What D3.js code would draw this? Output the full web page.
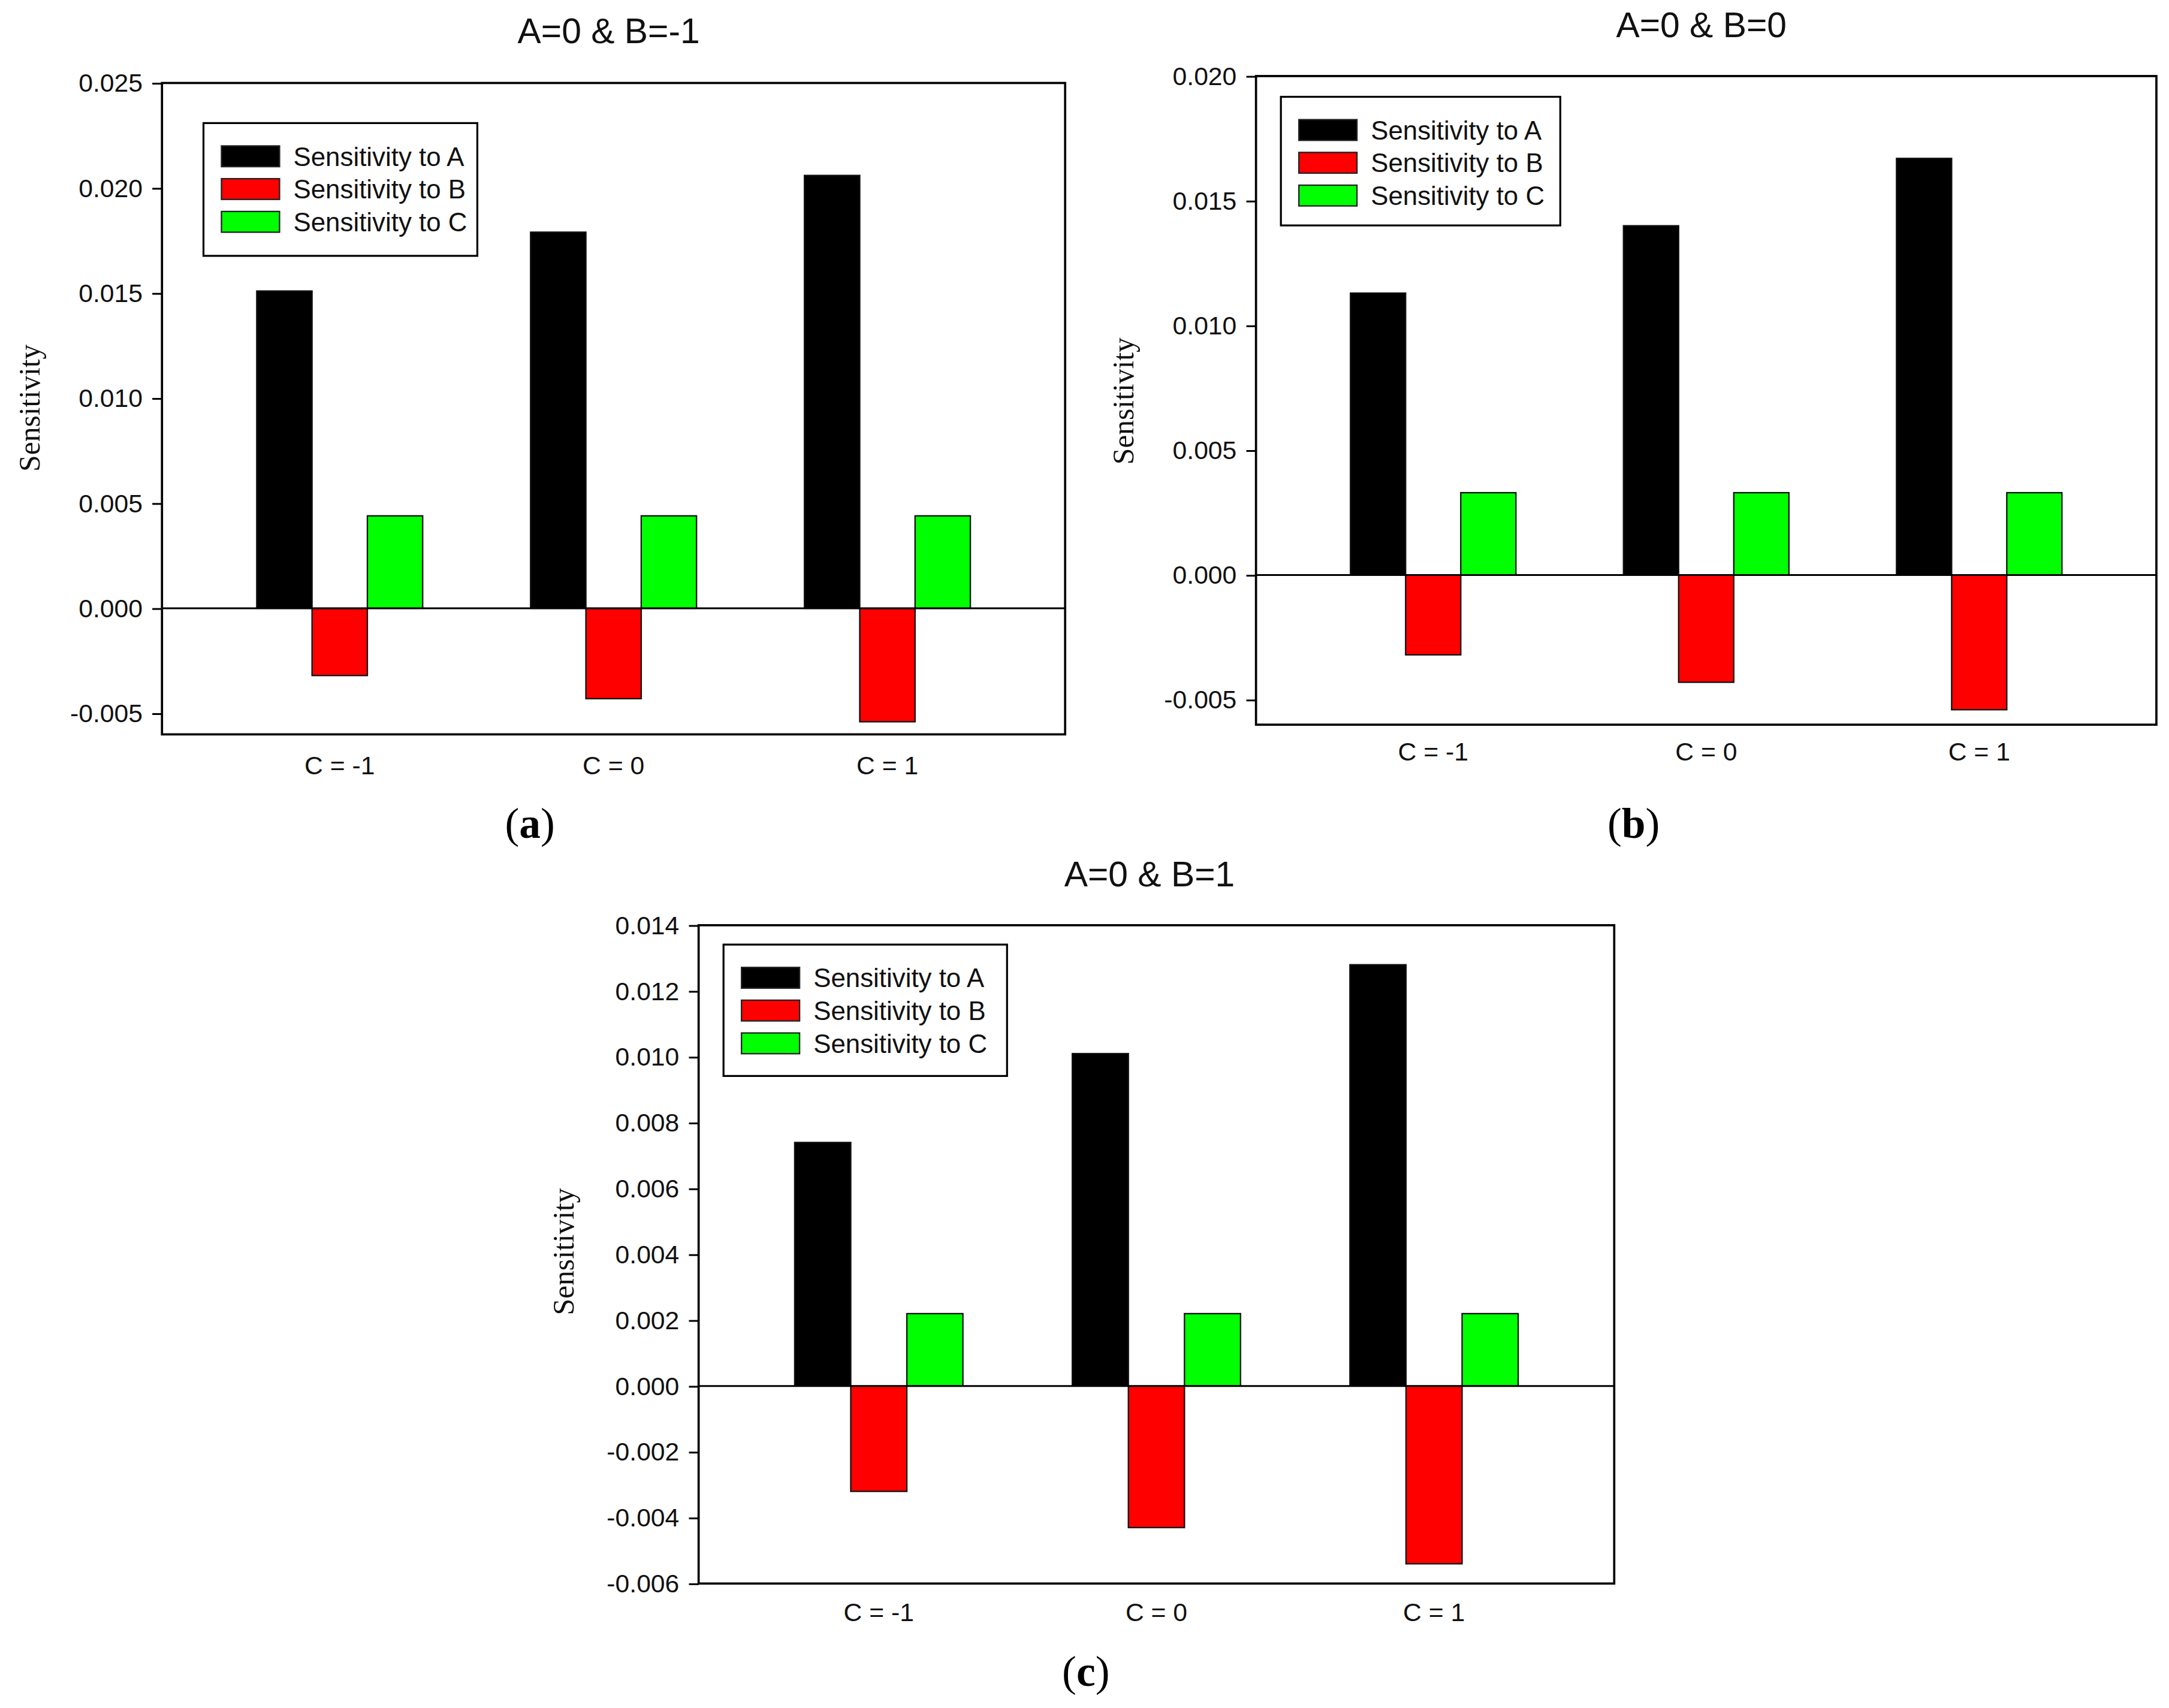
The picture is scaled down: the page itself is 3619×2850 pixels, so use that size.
<!DOCTYPE html>
<html>
<head>
<meta charset="utf-8">
<script src="https://cdn.jsdelivr.net/npm/d3@7"></script>
<style>
  html, body { margin: 0; padding: 0; background: #fff; }
  svg { display: block; }
</style>
</head>
<body>
<div id="chart"></div>
<script>
// Categorías, series y valores
const categories = ["C = -1", "C = 0", "C = 1"];
const seriesNames = ["Sensitivity to A", "Sensitivity to B", "Sensitivity to C"];
const seriesColors = ["#000000", "#ff0000", "#00ff00"];
const titles = ["A=0 & B=-1", "A=0 & B=0", "A=0 & B=1"];
const letters = ["(a)", "(b)", "(c)"];

// Panel (a): A=0 & B=-1
const sensA_a = [0.0151, 0.0179, 0.0206];
const sensB_a = [-0.0032, -0.0043, -0.0054];
const sensC_a = [0.0044, 0.0044, 0.0044];
const yTicks_a = [-0.005, 0.000, 0.005, 0.010, 0.015, 0.020, 0.025];
const yDomain_a = [-0.006, 0.025];

// Panel (b): A=0 & B=0
const sensA_b = [0.0113, 0.0140, 0.0167];
const sensB_b = [-0.0032, -0.0043, -0.0054];
const sensC_b = [0.0033, 0.0033, 0.0033];
const yTicks_b = [-0.005, 0.000, 0.005, 0.010, 0.015, 0.020];
const yDomain_b = [-0.006, 0.020];

// Panel (c): A=0 & B=1
const sensA_c = [0.0074, 0.0101, 0.0128];
const sensB_c = [-0.0032, -0.0043, -0.0054];
const sensC_c = [0.0022, 0.0022, 0.0022];
const yTicks_c = [-0.006, -0.004, -0.002, 0.000, 0.002, 0.004, 0.006, 0.008, 0.010, 0.012, 0.014];
const yDomain_c = [-0.006, 0.014];

// Tamaño de la página y sistema de coordenadas
const width = 3619;
const height = 2850;
const vbW = 1568, vbH = 1235;

const svg = d3.select("#chart").append("svg")
  .attr("width", width)
  .attr("height", height)
  .attr("viewBox", `0 0 ${vbW} ${vbH}`);

const fmt = d3.formatLocale({ decimal: ".", thousands: ",", grouping: [3], currency: ["", ""], minus: "-" }).format(".3f");

// Posición de cada panel (marco del área de trazado)
const panels = [
  { series: [sensA_a, sensB_a, sensC_a], ticks: yTicks_a, domain: yDomain_a,
    frame: { l: 117, t: 60, r: 770, b: 531 },
    titleX: 440, titleY: 31, ylabX: 21, ylabY: 295, xlabDy: 29, letterX: 383, letterY: 606,
    legend: { dx: 30, dy: 29, w: 198, h: 96 } },
  { series: [sensA_b, sensB_b, sensC_b], ticks: yTicks_b, domain: yDomain_b,
    frame: { l: 908, t: 55, r: 1559, b: 524 },
    titleX: 1230, titleY: 27, ylabX: 812, ylabY: 290, xlabDy: 26, letterX: 1181, letterY: 606,
    legend: { dx: 18, dy: 15, w: 202, h: 93 } },
  { series: [sensA_c, sensB_c, sensC_c], ticks: yTicks_c, domain: yDomain_c,
    frame: { l: 505, t: 669, r: 1167, b: 1145 },
    titleX: 831, titleY: 641, ylabX: 407, ylabY: 905, xlabDy: 27, letterX: 785, letterY: 1219,
    legend: { dx: 18, dy: 14, w: 205, h: 95 } }
];

panels.forEach((p, pi) => drawPanel(p, pi));

function drawPanel(p, pi) {
  const f = p.frame;
  const g = svg.append("g");

  const x = d3.scaleBand()
    .domain(categories)
    .range([f.l, f.r])
    .paddingInner(0.394)
    .paddingOuter(0.346);

  const xs = d3.scaleBand()
    .domain(seriesNames)
    .range([0, x.bandwidth()]);

  const y = d3.scaleLinear()
    .domain(p.domain)
    .range([f.b, f.t]);

  // Eje Y con marcas hacia fuera
  const yAxis = g.append("g")
    .attr("transform", `translate(${f.l},0)`)
    .call(d3.axisLeft(y).tickValues(p.ticks).tickFormat(fmt).tickSize(7).tickSizeOuter(0).tickPadding(7));
  yAxis.select(".domain").remove();
  yAxis.selectAll(".tick line").attr("stroke", "#000").attr("stroke-width", 1.3);
  yAxis.selectAll(".tick text")
    .attr("font-family", "'Liberation Sans', Arial, sans-serif")
    .attr("font-size", 18.5)
    .attr("fill", "#111");

  // Barras
  const rows = [];
  categories.forEach((c, ci) => {
    seriesNames.forEach((s, si) => rows.push({ cat: c, ser: s, si: si, v: p.series[si][ci] }));
  });

  g.append("g").selectAll("rect")
    .data(rows)
    .enter()
    .append("rect")
    .attr("x", d => x(d.cat) + xs(d.ser))
    .attr("width", xs.bandwidth())
    .attr("y", d => y(Math.max(0, d.v)))
    .attr("height", d => Math.abs(y(d.v) - y(0)))
    .attr("fill", d => seriesColors[d.si])
    .attr("stroke", "#111")
    .attr("stroke-width", 1);

  // Línea del cero
  g.append("line")
    .attr("x1", f.l).attr("x2", f.r)
    .attr("y1", y(0)).attr("y2", y(0))
    .attr("stroke", "#000")
    .attr("stroke-width", 1.3);

  // Marco
  g.append("rect")
    .attr("x", f.l).attr("y", f.t)
    .attr("width", f.r - f.l).attr("height", f.b - f.t)
    .attr("fill", "none")
    .attr("stroke", "#000")
    .attr("stroke-width", 1.6);

  // Etiquetas del eje X
  g.append("g").selectAll("text")
    .data(categories)
    .enter()
    .append("text")
    .attr("x", d => x(d) + x.bandwidth() / 2)
    .attr("y", f.b + p.xlabDy)
    .attr("text-anchor", "middle")
    .attr("font-family", "'Liberation Sans', Arial, sans-serif")
    .attr("font-size", 18.5)
    .attr("fill", "#111")
    .text(d => d);

  // Título
  g.append("text")
    .attr("x", p.titleX).attr("y", p.titleY)
    .attr("text-anchor", "middle")
    .attr("font-family", "'Liberation Sans', Arial, sans-serif")
    .attr("font-size", 25.5)
    .attr("fill", "#111")
    .text(titles[pi]);

  // Título del eje Y
  g.append("text")
    .attr("transform", `translate(${p.ylabX},${p.ylabY}) rotate(-90)`)
    .attr("text-anchor", "middle")
    .attr("dy", "0.35em")
    .attr("font-family", "'Liberation Serif', 'Times New Roman', serif")
    .attr("font-size", 21.5)
    .attr("fill", "#111")
    .text("Sensitivity");

  // Letra del panel
  g.append("text")
    .attr("x", p.letterX).attr("y", p.letterY)
    .attr("text-anchor", "middle")
    .attr("font-family", "'Liberation Serif', 'Times New Roman', serif")
    .attr("font-size", 31)
    .attr("fill", "#000")
    .html(`(<tspan font-weight="bold">${letters[pi].slice(1, 2)}</tspan>)`);

  // Leyenda
  const lg = p.legend;
  const lx = f.l + lg.dx, ly = f.t + lg.dy;
  const leg = g.append("g").attr("transform", `translate(${lx},${ly})`);
  leg.append("rect")
    .attr("width", lg.w).attr("height", lg.h)
    .attr("fill", "#fff")
    .attr("stroke", "#000")
    .attr("stroke-width", 1.4);

  const item = leg.selectAll("g.item")
    .data(seriesNames)
    .enter()
    .append("g")
    .attr("class", "item")
    .attr("transform", (d, i) => `translate(13,${24 + i * 23.7})`);

  item.append("rect")
    .attr("x", 0).attr("y", -7.5)
    .attr("width", 42).attr("height", 15)
    .attr("fill", (d, i) => seriesColors[i])
    .attr("stroke", "#222")
    .attr("stroke-width", 1);

  item.append("text")
    .attr("x", 52)
    .attr("dy", "0.36em")
    .attr("font-family", "'Liberation Sans', Arial, sans-serif")
    .attr("font-size", 19)
    .attr("fill", "#111")
    .text(d => d);
}
</script>
</body>
</html>
